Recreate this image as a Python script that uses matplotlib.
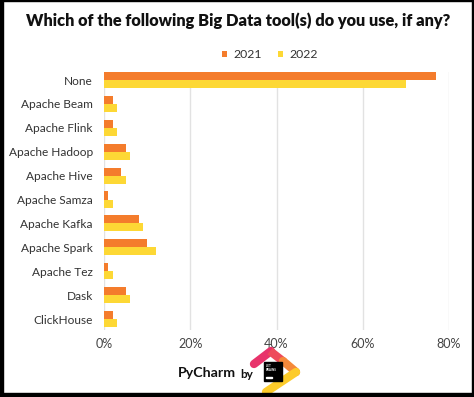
import matplotlib
matplotlib.use("Agg")
import matplotlib.pyplot as plt
from matplotlib.patches import Rectangle
import numpy as np

categories = ["None", "Apache Beam", "Apache Flink", "Apache Hadoop", "Apache Hive",
              "Apache Samza", "Apache Kafka", "Apache Spark", "Apache Tez", "Dask", "ClickHouse"]
values_2021 = [77, 2, 2, 5, 4, 1, 8, 10, 1, 5, 2]
values_2022 = [70, 3, 3, 6, 5, 2, 9, 12, 2, 6, 3]
series_names = ["2021", "2022"]
xticks = [0, 20, 40, 60, 80]
xtick_labels = ["0%", "20%", "40%", "60%", "80%"]

C21 = "#F47C2C"
C22 = "#FDD835"
FONT = ["Lato", "DejaVu Sans"]
plt.rcParams['font.family'] = FONT

W, H = 474, 397
fig = plt.figure(figsize=(W / 100, H / 100), dpi=100)
fig.patch.set_facecolor("white")

def fx(px):
    return px / W

def fy(py):
    return 1 - py / H

ax = fig.add_axes([fx(104), fy(330), fx(449) - fx(104), fy(72) - fy(330)])
y = np.arange(len(categories))
h = 0.335
ax.barh(y - h / 2, values_2021, height=h, color=C21, label=series_names[0], zorder=3)
ax.barh(y + h / 2, values_2022, height=h, color=C22, label=series_names[1], zorder=3)
ax.set_xlim(0, 80)
ax.set_ylim(10.46, -0.335)
ax.set_yticks(y)
ax.set_yticklabels(categories, fontsize=8.6, color="#333333")
ax.set_xticks(xticks)
ax.set_xticklabels(xtick_labels, fontsize=9, color="#444444")
ax.tick_params(axis="both", length=0)
ax.tick_params(axis="y", pad=8)
ax.tick_params(axis="x", pad=6)
for s in ax.spines.values():
    s.set_visible(False)
ax.grid(axis="x", color="#e2e2e2", linewidth=1, zorder=0)
ax.set_axisbelow(True)

# title
fig.text(fx(238), fy(21), "Which of the following Big Data tool(s) do you use, if any?",
         ha="center", va="center", fontsize=11.8, fontweight="heavy", color="#111111")

# legend
leg = ax.legend(loc="center", bbox_to_anchor=(fx(270), fy(55)), bbox_transform=fig.transFigure,
                ncol=2, frameon=False, fontsize=8.8, handlelength=0.45, handleheight=0.45,
                columnspacing=1.3, handletextpad=0.5, borderaxespad=0, borderpad=0)
for t in leg.get_texts():
    t.set_color("#333333")

# footer
fig.text(fx(178), fy(373), "PyCharm", ha="left", va="center", fontsize=10.2,
         fontweight="bold", color="#111111")
fig.text(fx(240), fy(374), "by", ha="left", va="center", fontsize=8.5,
         fontweight="bold", color="#111111")

# JetBrains logo (decoration)
lax = fig.add_axes([0, 0, 1, 1], facecolor="none")
lax.set_xlim(0, W)
lax.set_ylim(H, 0)
lax.axis("off")
lax.plot([254, 271], [364, 351], color="#E8336B", lw=6, solid_capstyle="round")
lax.plot([270, 284], [351, 362], color="#EE4A5A", lw=6, solid_capstyle="butt")
lax.plot([283, 296], [361, 372], color="#F5893A", lw=6, solid_capstyle="round")
lax.plot([296, 266], [372, 392], color="#FCCB2A", lw=6, solid_capstyle="round")
lax.add_patch(Rectangle((264, 362), 18, 19, color="black", zorder=5))
lax.text(266, 364, "JET\nBRAINS", fontsize=2.2, color="white", va="top", ha="left",
         fontweight="bold", zorder=6, linespacing=0.9)
lax.add_patch(Rectangle((266, 377), 6, 1.2, color="white", zorder=6))

# frame
lax.add_patch(Rectangle((0, 0), 3, H, color="black", zorder=10))
lax.add_patch(Rectangle((W - 2, 0), 2, H, color="black", zorder=10))
lax.add_patch(Rectangle((0, H - 4), W, 4, color="black", zorder=10))
lax.add_patch(Rectangle((0, 0), W, 1, color="black", zorder=10))

fig.savefig("out.png", dpi=100)
